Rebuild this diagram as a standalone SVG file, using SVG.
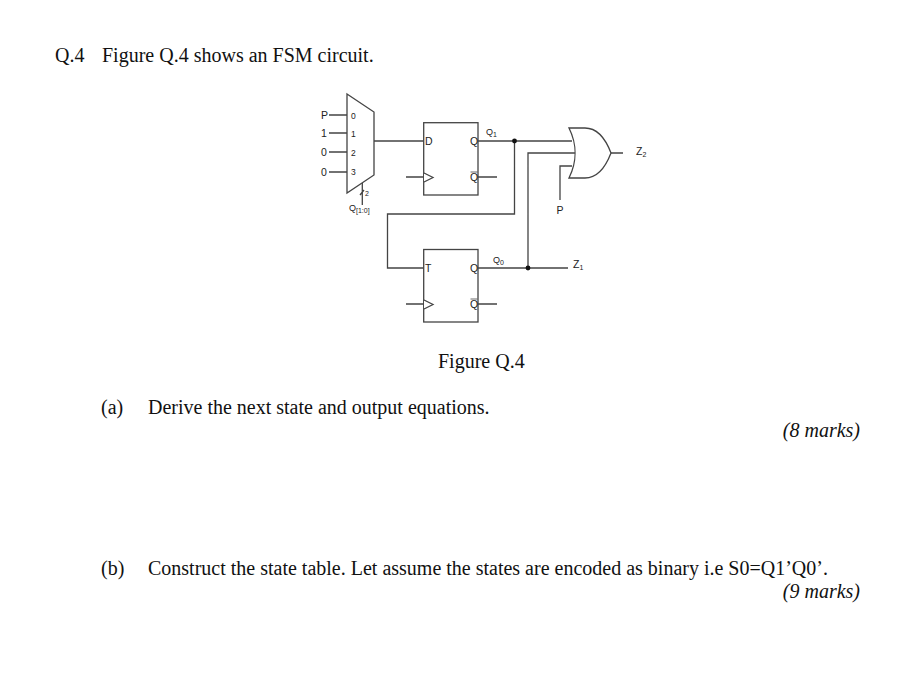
<svg xmlns="http://www.w3.org/2000/svg" width="900" height="682" viewBox="0 0 900 682">
<style>
.t{font-family:"Liberation Serif","Times New Roman",serif;font-size:20px;fill:#111}
.i{font-style:italic}
.s{font-family:"Liberation Sans",Arial,sans-serif;font-size:10.500px;fill:#222}
.d{font-size:8.500px}
.l{font-size:9px}
.b{font-size:7px}
.w,.g{fill:none;stroke:#444;stroke-width:1.3}
.g{fill:#fff}
</style>
<rect width="900" height="682" fill="#fff"/>
<g id="connectors">
<path class="w" d="M329 115H347M329 133H347M329 152H347M329 172H347M374 141H424M478 141H572M514.500 141V214H387.500V268H424M478 268H568M528 268V153H575M560 200V166H572M611 153H623M406 177H424M478 177H497M406 304H424M478 304H497M362.300 183V205M360 195L364 190"/>
<circle cx="514.500" cy="141" r="2.400" fill="#111"/>
<circle cx="528" cy="268" r="2.400" fill="#111"/>
</g>
<g id="mux">
<path class="g" d="M347 94L374 112V175L347 193Z"/>
<text class="s d" x="351" y="119">0</text>
<text class="s d" x="351" y="136.500">1</text>
<text class="s d" x="351" y="155.500">2</text>
<text class="s d" x="351" y="174.500">3</text>
<text class="s" x="321" y="119">P</text>
<text class="s" x="321" y="137">1</text>
<text class="s" x="321" y="156">0</text>
<text class="s" x="321" y="176">0</text>
<text class="s b" x="365" y="196">2</text>
<text class="s l" x="349" y="211">Q<tspan class="b" dy="2">[1:0]</tspan></text>
</g>
<g id="dff">
<rect class="g" x="423.700" y="122.700" width="54.300" height="72.300"/>
<path class="g" d="M424 173L433 177.500L424 182"/>
<text class="s" x="425" y="144.800">D</text>
<text class="s" x="470" y="144.800">Q</text>
<text class="s" x="470" y="180.800">Q</text>
<path class="w" d="M470.500 172H477.500" style="stroke-width:.8"/>
<text class="s l" x="486" y="135">Q<tspan class="b" dy="2">1</tspan></text>
</g>
<g id="tff">
<rect class="g" x="423.700" y="249.500" width="54.300" height="72.500"/>
<path class="g" d="M424 300L433 304.500L424 309"/>
<text class="s" x="425" y="271.800">T</text>
<text class="s" x="470" y="271.800">Q</text>
<text class="s" x="470" y="307.800">Q</text>
<path class="w" d="M470.500 299H477.500" style="stroke-width:.8"/>
<text class="s l" x="493" y="263">Q<tspan class="b" dy="2">0</tspan></text>
<text class="s" x="573" y="268">Z<tspan class="b" dy="2">1</tspan></text>
</g>
<g id="or">
<path class="g" d="M569 128H585C598 128 606 140 611 153C606 166 598 178 585 178H569C577 162 577 144 569 128Z"/>
<text class="s" x="636" y="155">Z<tspan class="b" dy="2">2</tspan></text>
<text class="s" x="556.500" y="213.500">P</text>
</g>
<g id="text">
<text class="t" x="55" y="62">Q.4</text>
<text class="t" x="102" y="62">Figure Q.4 shows an FSM circuit.</text>
<text class="t" x="438" y="368">Figure Q.4</text>
<text class="t" x="101" y="414">(a)</text>
<text class="t" x="148" y="414">Derive the next state and output equations.</text>
<text class="t i" x="860" y="437" text-anchor="end">(8 marks)</text>
<text class="t" x="101" y="575">(b)</text>
<text class="t" x="148" y="575">Construct the state table. Let assume the states are encoded as binary i.e S0=Q1’Q0’.</text>
<text class="t i" x="860" y="598" text-anchor="end">(9 marks)</text>
</g>
</svg>
